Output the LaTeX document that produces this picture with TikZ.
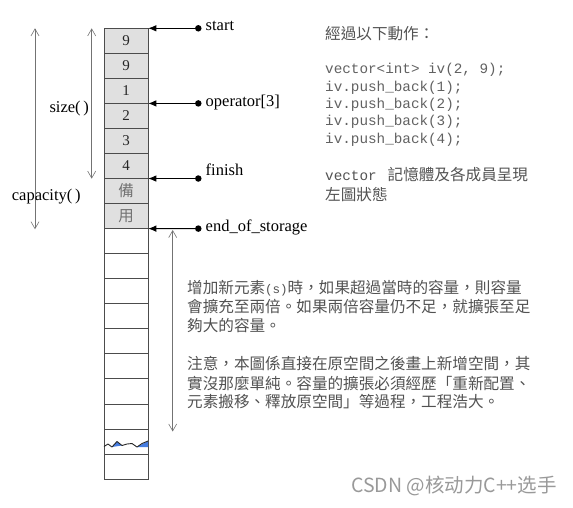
\documentclass[tikz,border=0pt]{standalone}
\usepackage{fontspec}
\setmainfont{Liberation Serif}
\newfontfamily\cjk{Noto Sans CJK TC}
\newfontfamily\cjksc{Noto Sans CJK SC}
\newfontfamily\monof{Liberation Mono}
\usetikzlibrary{arrows.meta}
\tikzset{
  cellbox/.style={draw=black!70, line width=0.8pt, minimum width=44.3pt, minimum height=25.04pt, inner sep=0pt, outer sep=0pt, anchor=north west},
  usedcell/.style={cellbox, fill=black!12},
  numtxt/.style={font=\fontsize{15}{15}\selectfont, text=black!85, inner sep=0pt},
  cjkcell/.style={font=\cjk\fontsize{15.5}{15.5}\selectfont, text=black!55, inner sep=0pt},
  ptr/.style={-{Latex[length=8pt,width=6.5pt]}, line width=0.8pt, draw=black},
  ptrdot/.style={circle, fill=black, inner sep=0pt, minimum size=6.5pt},
  lbl/.style={anchor=base west, inner sep=0pt, font=\fontsize{16.5}{16.5}\selectfont},
  dimarrow/.style={{Straight Barb[length=7pt,width=8pt]}-{Straight Barb[length=7pt,width=8pt]}, draw=black!55, line width=0.6pt},
  note/.style={anchor=west, text=black!68, inner sep=0pt, font=\cjk\fontsize{15.6}{15.6}\selectfont},
  codeline/.style={anchor=west, text=black!62, inner sep=0pt, font=\monof\fontsize{14.3}{14.3}\selectfont},
  wmark/.style={anchor=east, text=black!40, inner sep=0pt, font=\cjksc\fontsize{19.5}{19.5}\selectfont}
}
\begin{document}
\begin{tikzpicture}[x=1pt,y=-1pt]
\useasboundingbox (0,0) rectangle (573,507);
% cells
\foreach \i in {0,...,7}
  \node[usedcell] (c\i) at (104,{28.3+25.04*\i}) {};
\foreach \i in {8,...,17}
  \node[cellbox] (c\i) at (104,{28.3+25.04*\i}) {};
% cell contents
\node[numtxt] (v0) at (c0) {9};
\node[numtxt] (v1) at (c1) {9};
\node[numtxt] (v2) at (c2) {1};
\node[numtxt] (v3) at (c3) {2};
\node[numtxt] (v4) at (c4) {3};
\node[numtxt] (v5) at (c5) {4};
\node[cjkcell] (v6) at (c6) {備};
\node[cjkcell] (v7) at (c7) {用};
% broken-off mark in cell 16
\fill[fill={rgb,255:red,70;green,125;blue,225}] (112,447) -- (117,441.5) -- (122,445.5) -- cycle;
\fill[fill={rgb,255:red,70;green,125;blue,225}] (137,447) -- (148,441) -- (148,447) -- cycle;
\draw[black!85, line width=0.9pt, line join=round] (104,446.5) -- (108,444) -- (112,447) -- (117,441.5) -- (122,445.5) -- (127,444) -- (132,443.5) -- (137,447) -- (142,443.5) -- (148,441);
% pointers
\node[ptrdot] (dS) at (198.3,28.3) {};
\node[ptrdot] (dO) at (198.3,103.4) {};
\node[ptrdot] (dF) at (198.3,178.5) {};
\node[ptrdot] (dE) at (198.3,228.6) {};
\draw[ptr] (dS) -- (c0.north east);
\draw[ptr] (dO) -- (c3.north east);
\draw[ptr] (dF) -- (c6.north east);
\draw[ptr] (dE) -- (c8.north east);
\node[lbl] (lS) at (205.5,30.7) {start};
\node[lbl] (lO) at (205.5,106) {operator[3]};
\node[lbl] (lF) at (205.5,175) {finish};
\node[lbl] (lE) at (205.5,231.7) {end\_of\_storage};
% dimension arrows
\coordinate (capT) at (35,28.3);
\coordinate (capB) at (35,229.3);
\coordinate (sizT) at (91.7,28.3);
\coordinate (sizB) at (91.7,178.7);
\coordinate (grT) at (172.7,230);
\coordinate (grB) at (172.7,431.5);
\draw[dimarrow] (capT) -- (capB);
\draw[dimarrow] (sizT) -- (sizB);
\draw[dimarrow] (grT) -- (grB);
\node[lbl] (lSize) at (49.3,112) {size(\,)};
\node[lbl] (lCap) at (11.7,200) {capacity(\,)};
% right-hand text
\node[note] (t0) at (325,33.3) {經過以下動作：};
\node[codeline] (k1) at (325,70) {vector<int> iv(2, 9);};
\node[codeline] (k2) at (325,87.3) {iv.push\_back(1);};
\node[codeline] (k3) at (325,104.7) {iv.push\_back(2);};
\node[codeline] (k4) at (325,122) {iv.push\_back(3);};
\node[codeline] (k5) at (325,139.3) {iv.push\_back(4);};
\node[note] (t1) at (325,175) {{\monof\fontsize{14.3}{14.3}\selectfont vector}\hspace{11pt}記憶體及各成員呈現};
\node[note] (t2) at (325,195) {左圖狀態};
% lower notes
\node[note] (p1) at (187,287.7) {增加新元素{\monof\fontsize{12.5}{12.5}\selectfont(s)}時，如果超過當時的容量，則容量};
\node[note] (p2) at (187,306.7) {會擴充至兩倍。如果兩倍容量仍不足，就擴張至足};
\node[note] (p3) at (187,326) {夠大的容量。};
\node[note] (p4) at (187,363.3) {注意，本圖係直接在原空間之後畫上新增空間，其};
\node[note] (p5) at (187,383.3) {實沒那麼單純。容量的擴張必須經歷「重新配置、};
\node[note] (p6) at (187,401.7) {元素搬移、釋放原空間」等過程，工程浩大。};
% watermark
\node[wmark] (wm) at (557,486) {CSDN @核动力C++选手};
\end{tikzpicture}
\end{document}
